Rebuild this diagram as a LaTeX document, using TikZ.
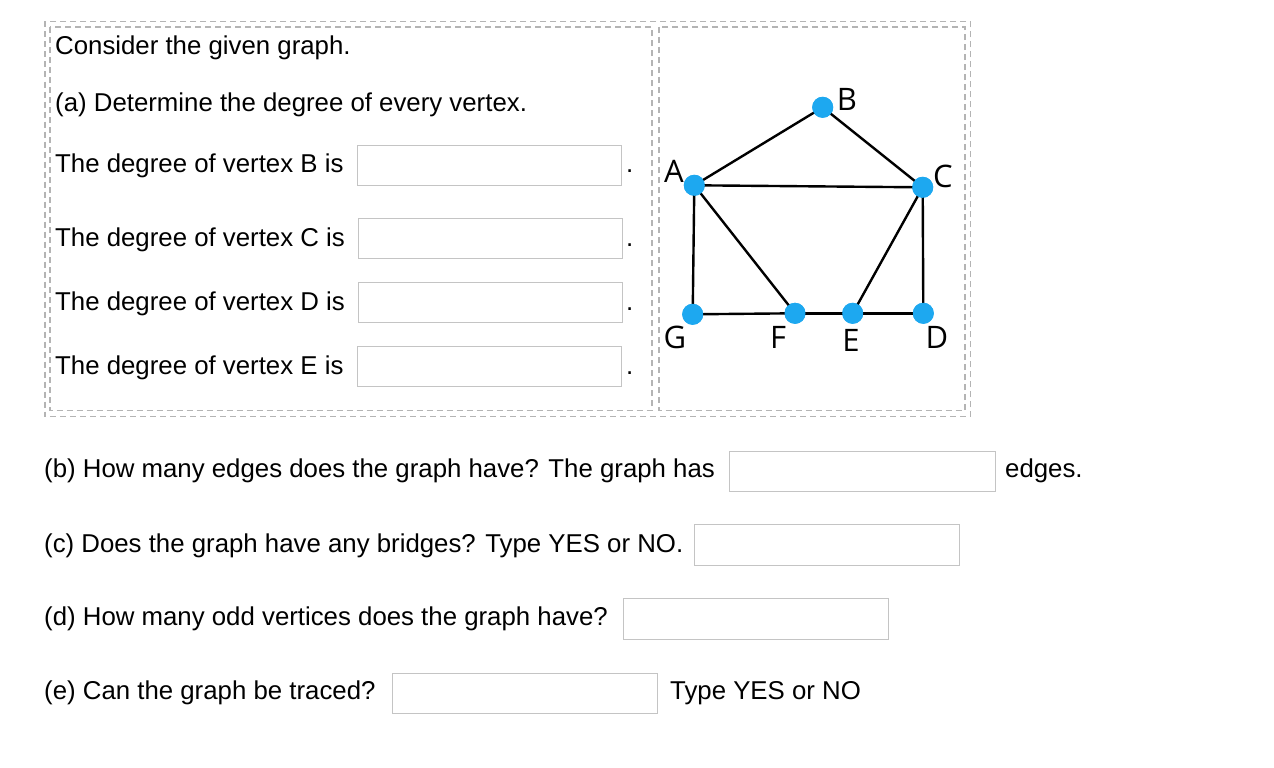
\documentclass[tikz,border=0pt]{standalone}
\usepackage{fontspec}
\setmainfont{Liberation Sans}
\newfontfamily\graphfont{Open Sans}
\definecolor{dashgray}{RGB}{180,180,180}
\definecolor{boxgray}{RGB}{196,196,196}
\definecolor{vblue}{RGB}{29,168,240}
\tikzset{
  frame/.style={draw=dashgray, line width=1.2pt, dash pattern=on 6pt off 4pt},
  txt/.style={anchor=base west, inner sep=0pt, font=\fontsize{25.8}{30}\selectfont},
  inputbox/.style={draw=boxgray, line width=1pt, anchor=north west, minimum height=40pt, minimum width=264pt, inner sep=0pt},
  vertex/.style={circle, fill=vblue, minimum size=21pt, inner sep=0pt},
  vlabel/.style={inner sep=0pt, font=\graphfont\fontsize{31}{36}\selectfont},
  edge/.style={line width=2.4pt, black}
}
\begin{document}
\begin{tikzpicture}[x=1pt,y=-1pt]
\fill[white] (0,0) rectangle (1274,768);
\useasboundingbox (0,0) rectangle (1274,768);
% frames
\draw[frame] (45,21.5) rectangle (970.5,416.5);
\draw[frame] (50,27) rectangle (652,410.5);
\draw[frame] (659,27) rectangle (965,410.5);
% left cell text
\node[txt] (t0) at (55,55) {Consider the given graph.};
\node[txt] (ta) at (55,111) {(a) Determine the degree of every vertex.};
\node[txt] (tB) at (55,172) {The degree of vertex B is};
\node[txt] (tC) at (55,246) {The degree of vertex C is};
\node[txt] (tD) at (55,310) {The degree of vertex D is};
\node[txt] (tE) at (55,374) {The degree of vertex E is};
\node[inputbox] (bB) at (357,145) {};
\node[inputbox] (bC) at (358,218) {};
\node[inputbox] (bD) at (358,282) {};
\node[inputbox] (bE) at (357,346) {};
\node[txt] (pB) at (626,172) {.};
\node[txt] (pC) at (626,246) {.};
\node[txt] (pD) at (626,310) {.};
\node[txt] (pE) at (626,374) {.};
% graph
\node[vertex] (B) at (822.7,107.3) {};
\node[vertex] (A) at (694.3,185.3) {};
\node[vertex] (C) at (922.7,187.3) {};
\node[vertex] (G) at (692.7,314.3) {};
\node[vertex] (F) at (795,313.3) {};
\node[vertex] (E) at (852.7,313.3) {};
\node[vertex] (D) at (923.3,313.3) {};
\draw[edge] (A.center) -- (B.center);
\draw[edge] (B.center) -- (C.center);
\draw[edge] (A.center) -- (C.center);
\draw[edge] (A.center) -- (G.center);
\draw[edge] (A.center) -- (F.center);
\draw[edge] (C.center) -- (E.center);
\draw[edge] (C.center) -- (D.center);
\draw[edge] (G.center) -- (F.center);
\draw[edge] (F.center) -- (E.center);
\draw[edge] (E.center) -- (D.center);
\foreach \v in {A,B,C,D,E,F,G} { \fill[vblue] (\v) circle (10.5pt); }
\node[vlabel] (lB) at (847,99) {B};
\node[vlabel] (lA) at (674,171.5) {A};
\node[vlabel] (lC) at (943,176.5) {C};
\node[vlabel] (lG) at (675,337.5) {G};
\node[vlabel] (lF) at (778,337.5) {F};
\node[vlabel] (lE) at (851,340.5) {E};
\node[vlabel] (lD) at (937,337.5) {D};
% lower questions
\node[txt] (qb) at (44,477) {(b) How many edges does the graph have? The graph has};
\node[inputbox, minimum width=266pt] (bb) at (729,451) {};
\node[txt] (qb2) at (1005,477) {edges.};
\node[txt] (qc) at (44,552) {(c) Does the graph have any bridges? Type YES or NO.};
\node[inputbox, minimum width=265pt, minimum height=41pt] (bc) at (694,524) {};
\node[txt] (qd) at (44,625) {(d) How many odd vertices does the graph have?};
\node[inputbox, minimum width=265pt, minimum height=41pt] (bd) at (623,598) {};
\node[txt] (qe) at (44,699) {(e) Can the graph be traced?};
\node[inputbox, minimum width=265pt] (be) at (392,673) {};
\node[txt] (qe2) at (670,699) {Type YES or NO};
\end{tikzpicture}
\end{document}
